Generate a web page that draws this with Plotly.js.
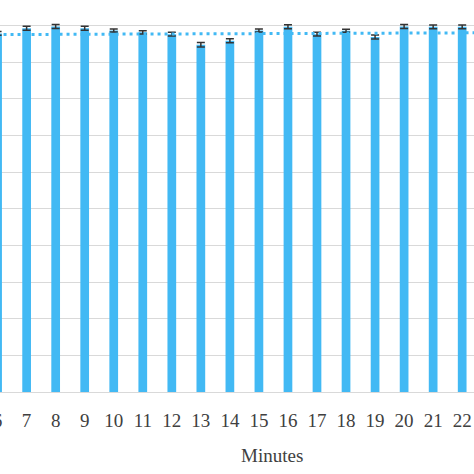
<!DOCTYPE html>
<html>
<head>
<meta charset="utf-8">
<script src="https://cdn.plot.ly/plotly-3.0.1.min.js"></script>
<style>
html, body { margin: 0; padding: 0; width: 474px; height: 474px; overflow: hidden; background: #fff; }
#chart { position: absolute; left: -30px; top: 0; width: 534px; height: 474px; }
</style>
</head>
<body>
<div id="chart"></div>
<script>
// Data
const minutes = [6, 7, 8, 9, 10, 11, 12, 13, 14, 15, 16, 17, 18, 19, 20, 21, 22];
const values  = [97.8, 99.2, 99.7, 99.2, 98.6, 98.1, 97.6, 94.7, 95.8, 98.6, 99.6, 97.6, 98.5, 96.8, 99.7, 99.6, 99.6];
const errors  = [0.5, 0.55, 0.55, 0.55, 0.4, 0.45, 0.5, 0.6, 0.55, 0.4, 0.55, 0.5, 0.4, 0.55, 0.55, 0.5, 0.5];
const trendX  = [5, 24];
const trendY  = [97.45, 98.0];
const tickLabels = minutes.map(String);
const xTitle = "Minutes";

const traces = [
  {
    type: 'bar',
    x: minutes,
    y: values,
    marker: { color: '#42B9F4' },
    error_y: { type: 'data', array: errors, visible: true, color: '#333333', thickness: 1.5, width: 4 },
    hoverinfo: 'none'
  },
  {
    type: 'scatter',
    mode: 'lines',
    x: trendX,
    y: trendY,
    line: { color: '#42B9F4', width: 3, dash: '3px,4px' },
    hoverinfo: 'none'
  }
];

const layout = {
  width: 534,
  height: 474,
  margin: { l: 0, r: 0, t: 18, b: 82 },
  paper_bgcolor: '#ffffff',
  plot_bgcolor: '#ffffff',
  showlegend: false,
  bargap: 0.7,
  font: { family: 'Liberation Serif, serif', size: 19, color: '#404040' },
  xaxis: {
    range: [5.05, 23.44],
    tickvals: minutes,
    ticktext: tickLabels,
    ticks: '',
    showgrid: false,
    zeroline: false,
    showline: false,
    ticklabelstandoff: 15,
    tickfont: { family: 'Liberation Serif, serif', size: 19, color: '#404040' }
  },
  yaxis: {
    range: [0, 102],
    dtick: 10,
    tick0: 0,
    showgrid: true,
    gridcolor: '#d9d9d9',
    gridwidth: 1,
    zeroline: true,
    zerolinecolor: '#d9d9d9',
    zerolinewidth: 1,
    showticklabels: false,
    ticks: ''
  },
  annotations: [
    {
      text: xTitle,
      xref: 'x', yref: 'paper',
      x: 15.45, y: -0.169,
      xanchor: 'center', yanchor: 'middle',
      showarrow: false,
      font: { family: 'Liberation Serif, serif', size: 19, color: '#404040' }
    }
  ]
};

Plotly.newPlot('chart', traces, layout, { staticPlot: true, displayModeBar: false });
</script>
</body>
</html>
